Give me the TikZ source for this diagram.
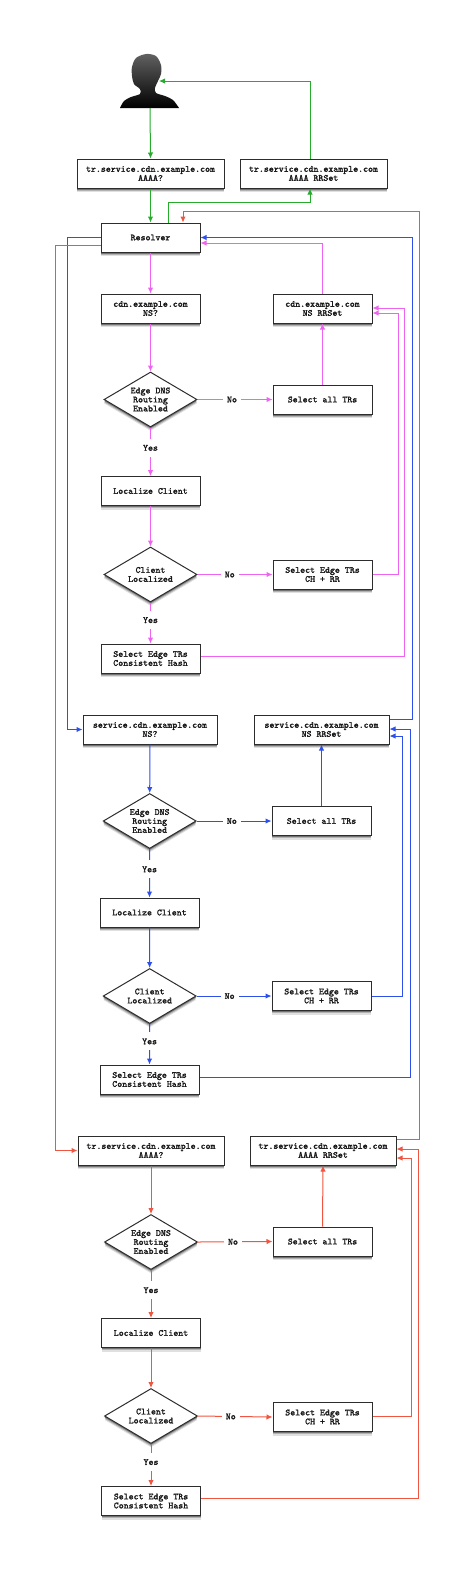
\documentclass[tikz,border=0pt]{standalone}
\usepackage{fontspec}
\newfontfamily\dnsfont[FakeBold=1.4]{Latin Modern Mono}
\definecolor{dnsgreen}{RGB}{40,170,45}
\definecolor{dnsmagenta}{RGB}{238,100,240}
\definecolor{dnsblue}{RGB}{45,80,235}
\definecolor{dnsred}{RGB}{240,85,65}
\definecolor{dnsborder}{RGB}{45,45,45}
\usetikzlibrary{arrows.meta,shapes.geometric,shadows}
\tikzset{
  softshadow/.style={drop shadow={shadow xshift=0pt,shadow yshift=-4pt,opacity=1,fill=black!12},
    drop shadow={shadow xshift=0pt,shadow yshift=-2.8pt,opacity=1,fill=black!30},
    drop shadow={shadow xshift=0pt,shadow yshift=-1.5pt,opacity=1,fill=black!55}},
  dnstext/.style={font=\fontsize{9.45}{9}\selectfont\dnsfont, text=black!90, align=center},
  dnsbox/.style={dnstext, rectangle, draw=dnsborder, line width=1pt, fill=white, softshadow,
    inner sep=0pt, minimum width=99pt, minimum height=29pt},
  dnsdiamond/.style={dnstext, diamond, aspect=1.7, draw=dnsborder, line width=1pt, fill=white, softshadow,
    inner sep=0pt, minimum width=93pt, minimum height=55pt},
  choice/.style={dnstext, fill=white, inner sep=0pt, minimum width=18pt, minimum height=18pt},
  flow/.style={line width=1pt, -{Latex[length=6pt,width=5.5pt]}},
  greenflow/.style={flow, dnsgreen},
  magentaflow/.style={flow, dnsmagenta},
  blueflow/.style={flow, dnsblue},
  redflow/.style={flow, dnsred}
}
\begin{document}
\begin{tikzpicture}[x=1pt,y=-1pt]
  \useasboundingbox (0,0) rectangle (474,1580);

  % Client silhouette
  \shade[top color=black!62, bottom color=black] plot[smooth] coordinates {(120,108) (124,101) (131,97) (140,94) (140,89) (134,84) (132,76) (132,67) (136,58) (146,54) (156,56) (161,65) (161,74) (158,81) (155,88) (156,93) (165,96) (173,100) (179,108)} -- cycle;
  \node[inner sep=0pt, minimum width=59pt, minimum height=54pt] (user) at (150,81) {};
  \coordinate (userside) at (159,81);

  % Top row and resolver
  \node[dnsbox, minimum width=147pt] (query) at (150.5,173.5) {tr.service.cdn.example.com\\AAAA?};
  \node[dnsbox, minimum width=147pt] (answer) at (313.5,173.5) {tr.service.cdn.example.com\\AAAA RRSet};
  \node[dnsbox] (resolver) at (150.5,237.5) {Resolver};

  % Stage 1: cdn.example.com
  \node[dnsbox] (nsqa) at (150.5,308.5) {cdn.example.com\\NS?};
  \node[dnsbox] (nsrra) at (322.5,308.5) {cdn.example.com\\NS RRSet};
  \node[dnsdiamond] (edgea) at (150.5,399.5) {Edge DNS\\Routing\\Enabled};
  \node[dnsbox] (alla) at (322.5,399.5) {Select all TRs};
  \node[dnsbox] (locala) at (150.5,491) {Localize Client};
  \node[dnsdiamond] (clienta) at (150.5,574.5) {Client\\Localized};
  \node[dnsbox] (rra) at (322.5,574.5) {Select Edge TRs\\CH + RR};
  \node[dnsbox] (hasha) at (150.5,658.5) {Select Edge TRs\\Consistent Hash};

  % Stage 2: service.cdn.example.com
  \node[dnsbox, minimum width=134pt] (nsqb) at (150,729.5) {service.cdn.example.com\\NS?};
  \node[dnsbox, minimum width=135pt] (nsrrb) at (321.5,729.5) {service.cdn.example.com\\NS RRSet};
  \node[dnsdiamond] (edgeb) at (149.7,821) {Edge DNS\\Routing\\Enabled};
  \node[dnsbox] (allb) at (321.5,821) {Select all TRs};
  \node[dnsbox] (localb) at (149.5,912.5) {Localize Client};
  \node[dnsdiamond] (clientb) at (149.7,996) {Client\\Localized};
  \node[dnsbox] (rrb) at (321.5,996) {Select Edge TRs\\CH + RR};
  \node[dnsbox] (hashb) at (149.5,1079.5) {Select Edge TRs\\Consistent Hash};

  % Stage 3: tr.service.cdn.example.com
  \node[dnsbox, minimum width=146pt] (nsqc) at (151,1150.5) {tr.service.cdn.example.com\\AAAA?};
  \node[dnsbox, minimum width=146pt] (nsrrc) at (323,1150.5) {tr.service.cdn.example.com\\AAAA RRSet};
  \node[dnsdiamond] (edgec) at (151,1242) {Edge DNS\\Routing\\Enabled};
  \node[dnsbox] (allc) at (322.5,1241.5) {Select all TRs};
  \node[dnsbox] (localc) at (151,1333) {Localize Client};
  \node[dnsdiamond] (clientc) at (151,1416) {Client\\Localized};
  \node[dnsbox] (rrc) at (322.5,1417) {Select Edge TRs\\CH + RR};
  \node[dnsbox] (hashc) at (151,1501) {Select Edge TRs\\Consistent Hash};

  % Green connectors
  \draw[greenflow] (user.south) -- (query.north);
  \draw[greenflow] (query.south) -- (resolver.north);
  \draw[greenflow] ([xshift=17.5pt]resolver.north) -- ++(0,-20) -| ([xshift=-3.5pt]answer.south);
  \draw[greenflow] ([xshift=-3.5pt]answer.north) |- (userside);

  % Magenta connectors
  \draw[magentaflow] (resolver.south) -- (nsqa.north);
  \draw[magentaflow] (nsqa.south) -- (edgea.north);
  \draw[magentaflow] (edgea.east) -- node[choice, pos=.46] (noaa) {No} (alla.west);
  \draw[magentaflow] (alla.north) -- (nsrra.south);
  \draw[magentaflow] (nsrra.north) |- ([yshift=-5.5pt]resolver.east);
  \draw[magentaflow] (edgea.south) -- node[choice, pos=.42] (yesaa) {Yes} (locala.north);
  \draw[magentaflow] (locala.south) -- (clienta.north);
  \draw[magentaflow] (clienta.east) -- node[choice, pos=.43] (noab) {No} (rra.west);
  \draw[magentaflow] (clienta.south) -- node[choice, pos=.43] (yesab) {Yes} (hasha.north);
  \draw[magentaflow] (rra.east) -- ++(26,0) |- ([yshift=-4.5pt]nsrra.east);
  \draw[magentaflow] ([yshift=2.5pt]hasha.east) -- ++(204,0) |- ([yshift=.5pt]nsrra.east);

  % Blue connectors
  \draw[blueflow] (resolver.west) -- ++(-33,0) |- (nsqb.west);
  \draw[blueflow] ([yshift=10.5pt]nsrrb.east) -- ++(23,0) |- (resolver.east);
  \draw[blueflow] (nsqb.south) -- (edgeb.north);
  \draw[blueflow] (edgeb.east) -- node[choice, pos=.47] (noba) {No} (allb.west);
  \draw[blueflow] (allb.north) -- (nsrrb.south);
  \draw[blueflow] (edgeb.south) -- node[choice, pos=.42] (yesba) {Yes} (localb.north);
  \draw[blueflow] (localb.south) -- (clientb.north);
  \draw[blueflow] (clientb.east) -- node[choice, pos=.44] (nobb) {No} (rrb.west);
  \draw[blueflow] (clientb.south) -- node[choice, pos=.43] (yesbb) {Yes} (hashb.north);
  \draw[blueflow] (rrb.east) -- ++(31,0) |- ([yshift=-6.5pt]nsrrb.east);
  \draw[blueflow] ([yshift=2.5pt]hashb.east) -- ++(211,0) |- ([yshift=.5pt]nsrrb.east);

  % Red connectors
  \draw[redflow] ([yshift=-7.5pt]resolver.west) -- ++(-45,0) |- (nsqc.west);
  \draw[redflow] ([yshift=11.5pt]nsrrc.east) -- ++(23,0) |- ([xshift=32.5pt,yshift=11pt]resolver.north) -- ([xshift=32.5pt]resolver.north);
  \draw[redflow] (nsqc.south) -- (edgec.north);
  \draw[redflow] (edgec.east) -- node[choice, pos=.47] (noca) {No} (allc.west);
  \draw[redflow] (allc.north) -- (nsrrc.south);
  \draw[redflow] (edgec.south) -- node[choice, pos=.42] (yesca) {Yes} (localc.north);
  \draw[redflow] (localc.south) -- (clientc.north);
  \draw[redflow] (clientc.east) -- node[choice, pos=.44] (nocb) {No} (rrc.west);
  \draw[redflow] (clientc.south) -- node[choice, pos=.43] (yescb) {Yes} (hashc.north);
  \draw[redflow] ([yshift=1pt]rrc.east) -- ++(39,0) |- ([yshift=-7.5pt]nsrrc.east);
  \draw[redflow] ([yshift=3pt]hashc.east) -- ++(217,0) |- ([yshift=1.5pt]nsrrc.east);
\end{tikzpicture}
\end{document}
